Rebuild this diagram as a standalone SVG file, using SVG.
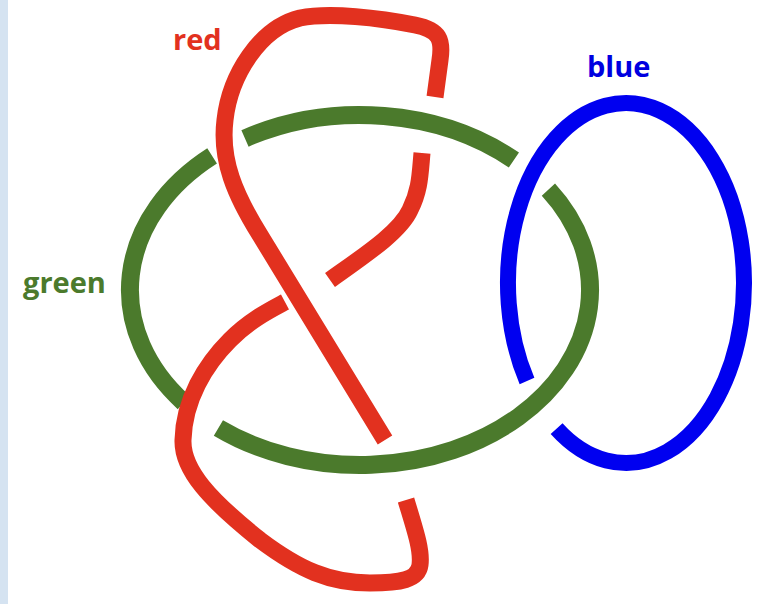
<svg xmlns="http://www.w3.org/2000/svg" width="760" height="604" viewBox="0 0 760 604">
<style>
.s{fill:none;stroke-linecap:butt;stroke-linejoin:round}
.r{stroke:#e2311f;stroke-width:17}
.g{stroke:#4b7a2c;stroke-width:18}
.b{stroke:#0000f0;stroke-width:16}
.t{font-family:"Open Sans","Liberation Sans",sans-serif;font-weight:700;font-size:29px}
</style>
<rect width="760" height="604" fill="#fff"/>
<rect x="0" y="0" width="8" height="604" fill="#d5e3f1"/>
<g id="green">
<path class="s g" d="M245,138.4 A230 175 0 0 1 513.9,160"/>
<path class="s g" d="M548.4,189.6 A230 175 0 0 1 218.4,427.9"/>
<path class="s g" d="M183.8,402.5 A230 175 0 0 1 212.1,155.9"/>
<text class="t" x="23" y="293" fill="#4b7a2c">green</text>
</g>
<g id="blue">
<path class="s b" d="M527,381 A118 180 0 1 1 556.6,428.6"/>
<text class="t" x="587" y="77" fill="#0000e0">blue</text>
</g>
<g id="red">
<path class="s r" d="M435,97 L440,60 C443,40 440,30 415,25 C380,18 330,12 300,18 C260,28 230,75 225,120 C220,160 235,195 260,235 C290,285 330,350 385,440"/>
<path class="s r" d="M406,500 C415,530 422,550 420,565 C418,580 400,583 370,583 C330,583 300,570 260,540 C210,500 182,470 183,440 C184,400 205,365 230,340 C250,320 270,310 285,302"/>
<path class="s r" d="M330,280 C365,255 400,232 410,210 C420,190 420,175 422,153"/>
<text class="t" x="173" y="50" fill="#e2311f">red</text>
</g>
</svg>
